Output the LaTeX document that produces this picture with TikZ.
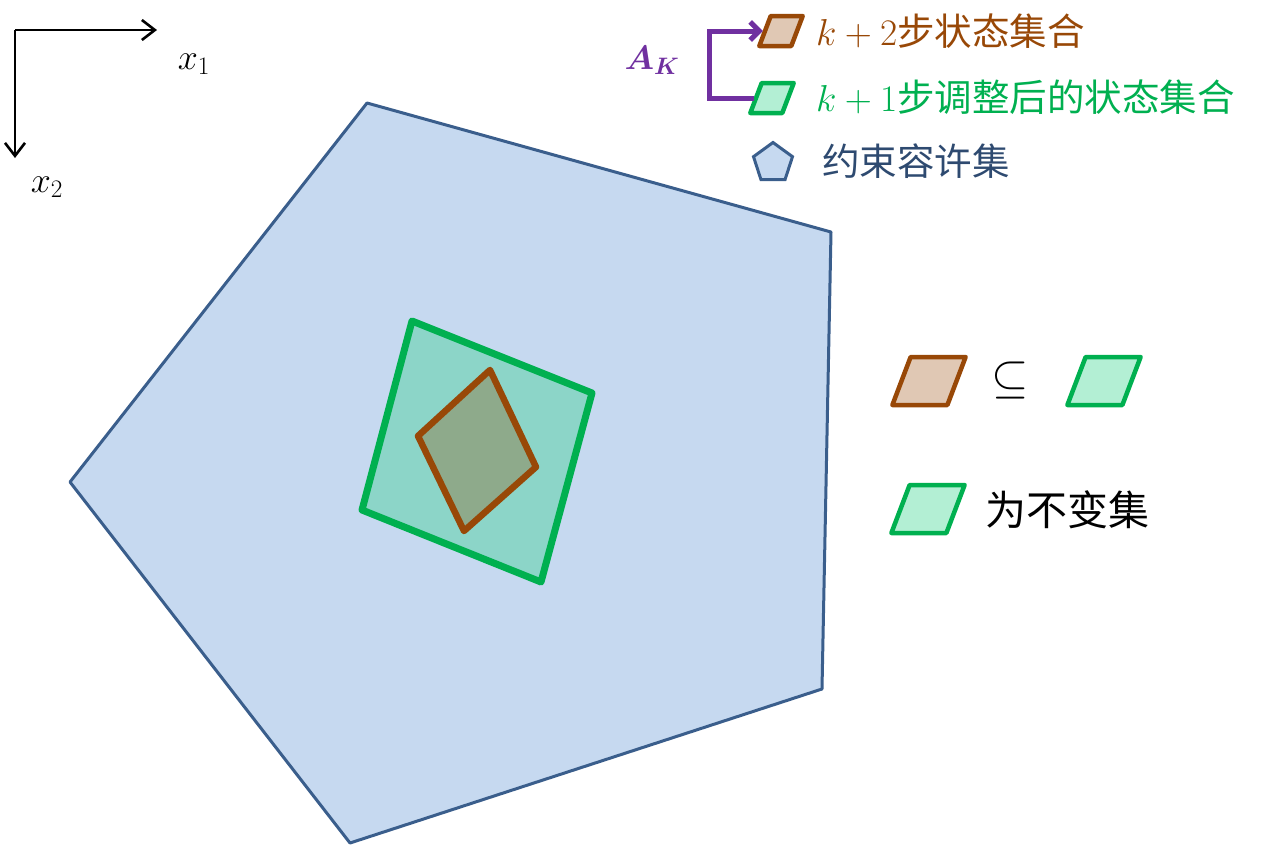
\RequirePackage{fix-cm}
\documentclass[tikz,border=0pt]{standalone}
\usepackage{fontspec}
\usepackage{amsmath}
\usepackage{bm}
\newfontfamily\cjk{Noto Sans CJK SC}
\usetikzlibrary{shapes.geometric,arrows.meta}

\definecolor{admfill}{HTML}{C6D9F0}
\definecolor{admline}{HTML}{3A5E8C}
\definecolor{admtext}{HTML}{2E4A70}
\definecolor{setgreen}{HTML}{00B050}
\definecolor{greenlight}{HTML}{B3EFD4}
\definecolor{greenmix}{HTML}{8CD5C8}
\definecolor{setbrown}{HTML}{984807}
\definecolor{brownlight}{HTML}{E0C8B4}
\definecolor{brownmix}{HTML}{8EAA8B}
\definecolor{akpurple}{HTML}{7030A0}

\tikzset{
  legpar/.style={rectangle, xslant=0.38, inner sep=0pt, line width=4.5pt, line join=round},
  brownpar/.style={legpar, draw=setbrown, fill=brownlight},
  greenpar/.style={legpar, draw=setgreen, fill=greenlight},
  legtext/.style={anchor=west, inner sep=0pt, font=\fontsize{37.5}{42}\selectfont},
  axarrow/.style={line width=2.6pt,-{Straight Barb[length=13pt,width=20pt]}},
}

\begin{document}
\begin{tikzpicture}[x=1pt,y=-1pt]
    \useasboundingbox (0,0) rectangle (1262,847);
    % axes
    \coordinate (orig) at (15,30);
    \coordinate (xonetip) at (157,30);
    \coordinate (xtwotip) at (15,158);
    \draw[axarrow] (orig) -- (xonetip);
    \draw[axarrow] (orig) -- (xtwotip);
    \node[font=\fontsize{36}{40}\selectfont] (xone) at (194,64) {$x_1$};
    \node[font=\fontsize{36}{40}\selectfont] (xtwo) at (47,187) {$x_2$};
    % constraint set
    \draw[admline,fill=admfill,line width=3pt,line join=round]
        (367,103) -- (831,232) -- (822,689) -- (350,843) -- (70,482) -- cycle;
    % step k+1 and k+2
    \draw[setgreen,fill=greenmix,line width=7pt,line join=round]
        (412,321) -- (592,393) -- (541,582) -- (362,510) -- cycle;
    \draw[setbrown,fill=brownmix,line width=6.5pt,line join=round]
        (490,370) -- (536,467) -- (464,531) -- (418,436) -- cycle;
    % legend
    \node[brownpar,minimum width=32pt,minimum height=30pt] (bleg) at (781,31) {};
    \node[greenpar,minimum width=32pt,minimum height=30pt] (gleg) at (772,98) {};
    \node[regular polygon,regular polygon sides=5,minimum size=41pt,inner sep=0pt,
        draw=admline,fill=admfill,line width=3pt] (pleg) at (773,163) {};
    \node[legtext,text=setbrown] (btext) at (816,31) {$k+2$\cjk{步状态集合}};
    \node[legtext,text=setgreen] (gtext) at (816,97) {$k+1$\cjk{步调整后的状态集合}};
    \node[legtext,text=admtext] (ptext) at (822,161) {\cjk{约束容许集}};
    \draw[akpurple,line width=5pt,-{Straight Barb[length=9pt,width=18pt]}]
        (gleg.west) -- ++(-44,0) |- (bleg.west);
    \node[text=akpurple,font=\fontsize{34}{38}\selectfont] (ak) at (652,60) {$\bm{A_K}$};
    % invariance
    \node[brownpar,minimum width=55pt,minimum height=48pt] (bsub) at (929,381) {};
    \node[font=\fontsize{48}{52}\selectfont] (subs) at (1010,380) {$\subseteq$};
    \node[greenpar,minimum width=55pt,minimum height=48pt] (gsub) at (1104,381) {};
    \node[greenpar,minimum width=55pt,minimum height=48pt] (ginv) at (928,509) {};
    \node[legtext,font=\fontsize{41}{46}\selectfont] (invtext) at (985,510) {\cjk{为不变集}};
\end{tikzpicture}
\end{document}
